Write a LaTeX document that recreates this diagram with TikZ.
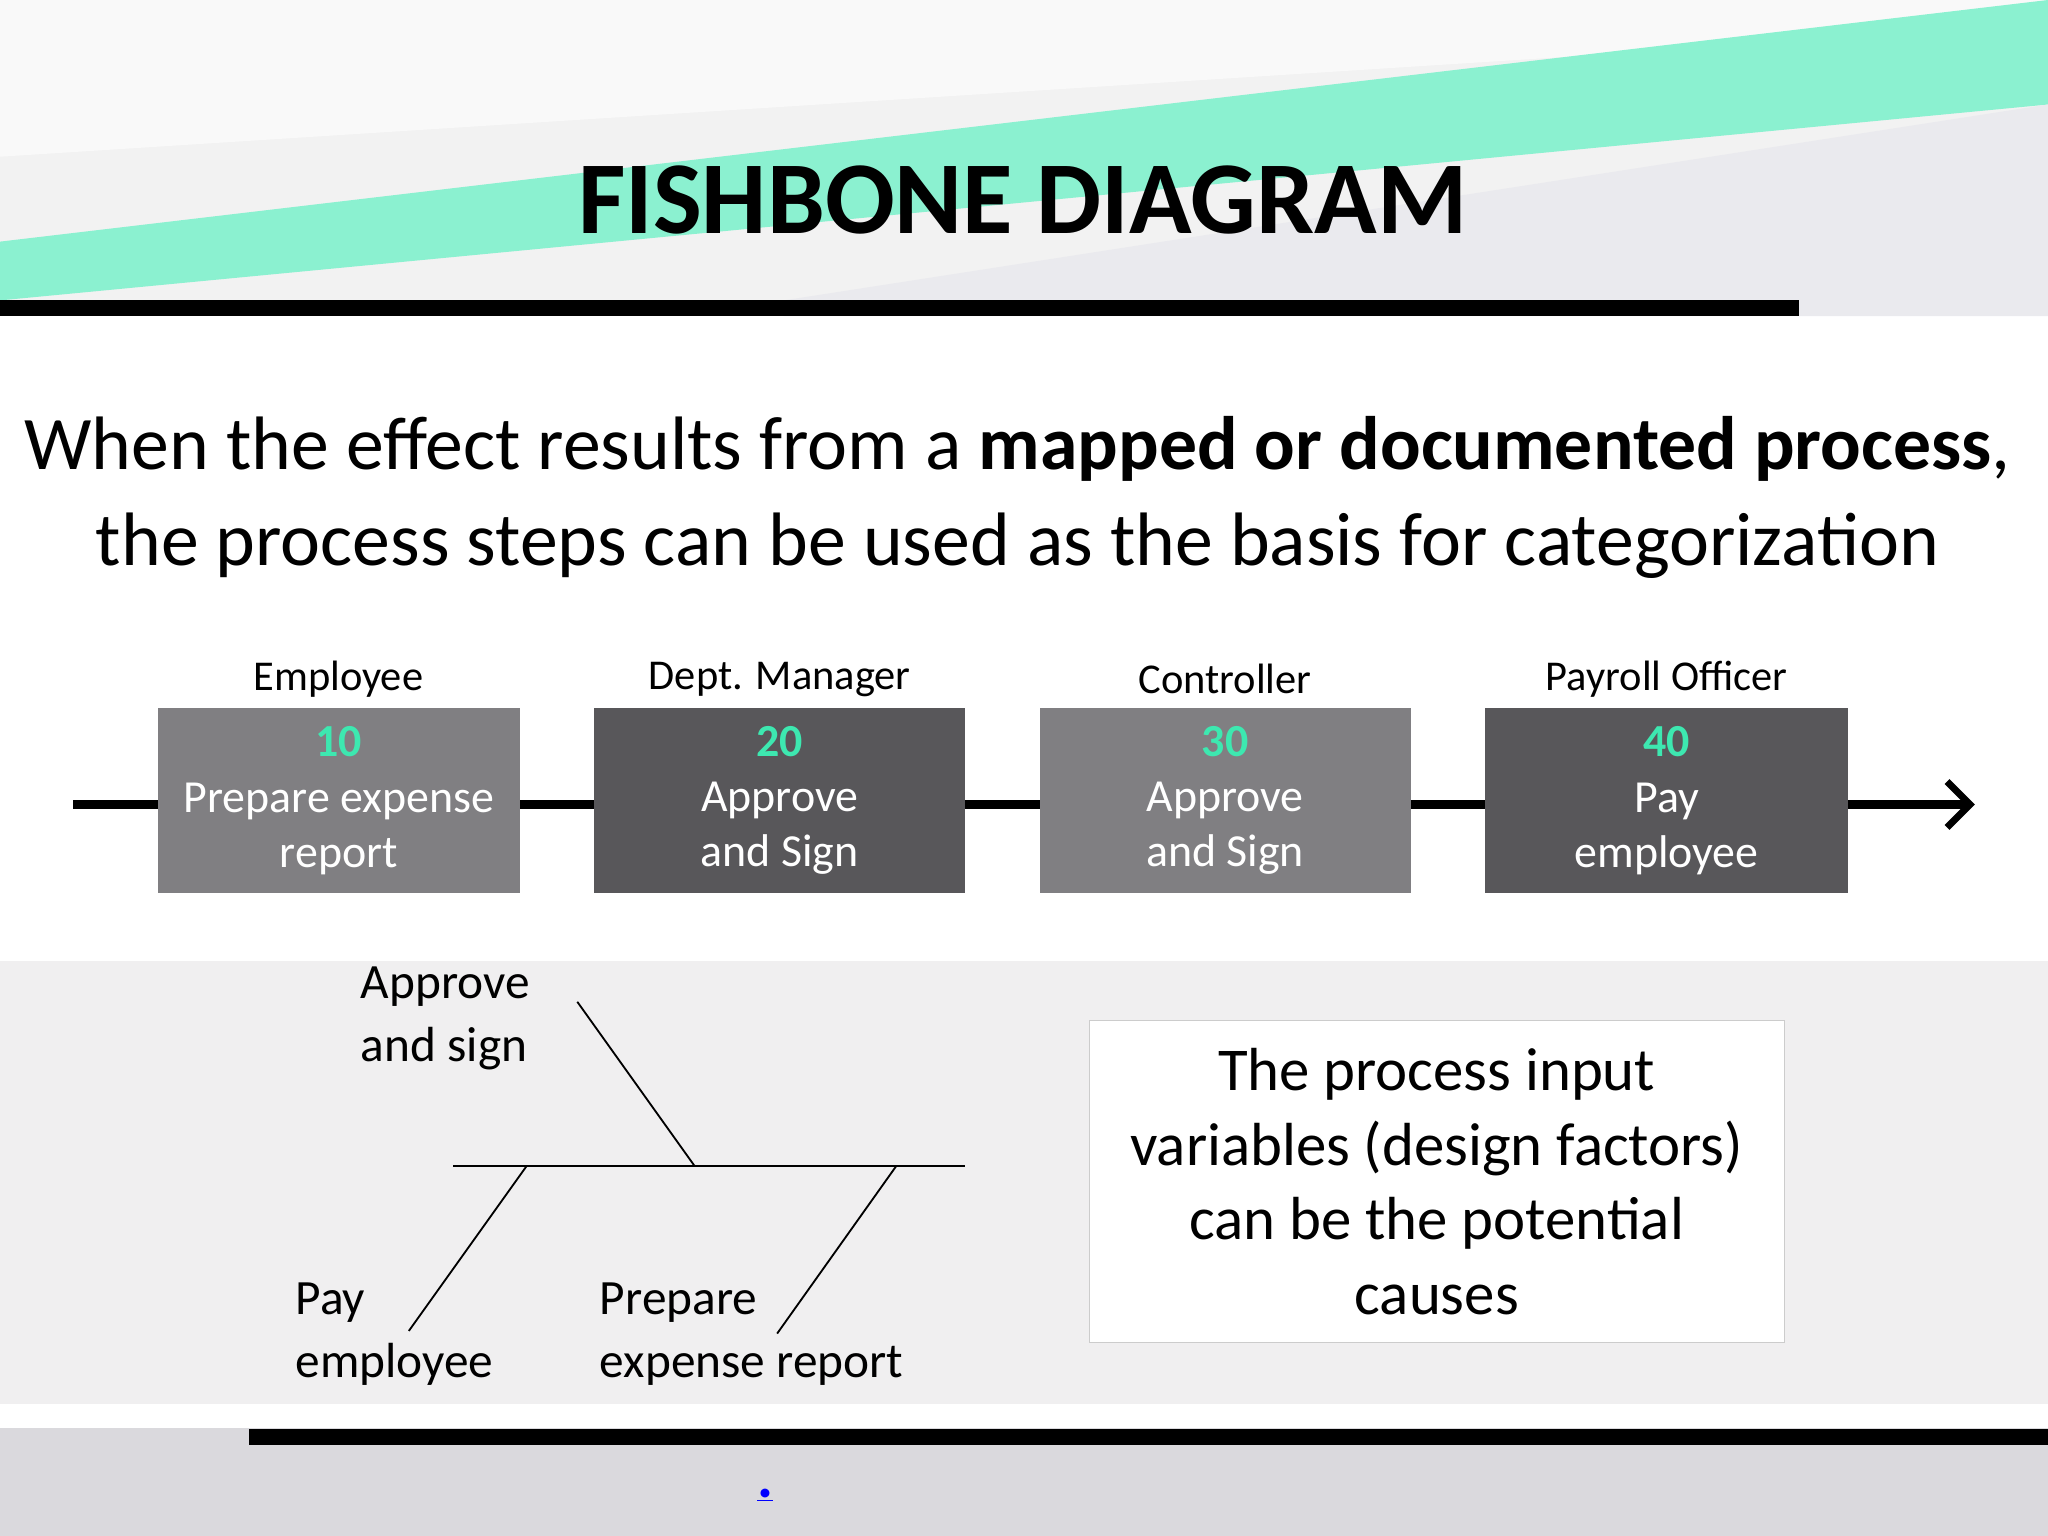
\documentclass[tikz,border=0pt]{standalone}
\usepackage{fontspec}
\setmainfont{Carlito}
\usetikzlibrary{arrows.meta}
\begin{document}
\begin{tikzpicture}[x=0.02cm,y=-0.02cm,
  step/.style={minimum width=#1*0.02cm,minimum height=2.84cm,inner sep=0pt,text=white,font=\fontsize{20}{24}\selectfont,align=center},
  role/.style={font=\fontsize{18.5}{20}\selectfont},
  lab/.style={font=\fontsize{21.5}{27.5}\selectfont,align=left,anchor=north west,inner sep=0pt},
  bone/.style={line width=0.8pt}]
\definecolor{tealc}{HTML}{3DE8B0}
\definecolor{lightbox}{HTML}{807F82}
\definecolor{darkbox}{HTML}{58575A}
\definecolor{bandgray}{HTML}{F0EFF0}
\definecolor{footgray}{HTML}{DAD9DD}
\useasboundingbox (0,0) rectangle (1568,1176);
% header
\fill[gray!10] (0,0) rectangle (1568,242);
\fill[gray!5] (0,0) -- (1568,0) -- (1568,20) -- (0,120) -- cycle;
\fill[tealc!60] (0,185) -- (1568,0) -- (1568,80) -- (0,230) -- cycle;
\fill[blue!10!gray!15] (600,230) -- (1568,80) -- (1568,242) -- (600,242) -- cycle;
\fill[black] (0,230) rectangle (1377,242);
\node[font=\fontsize{45}{50}\selectfont\bfseries] (title) at (783,153) {FISHBONE DIAGRAM};
% subtitle
\node[font=\fontsize{33}{42}\selectfont,align=center] (sub) at (779,381)
 {When the effect results from a \textbf{mapped or documented process},\\the process steps can be used as the basis for categorization};
% process
\coordinate (ls) at (56,616);
\coordinate (le) at (1512,616);
\draw[line width=4pt,-{Straight Barb[length=10pt,width=20pt,line width=3pt]}] (ls) -- (le);
\node[step=277,fill=lightbox] (s1) at (259.5,613) {\textcolor{tealc}{\textbf{10}}\\Prepare expense\\report};
\node[step=284,fill=darkbox] (s2) at (597,613) {\textcolor{tealc}{\textbf{20}}\\Approve\\and Sign};
\node[step=284,fill=lightbox] (s3) at (938,613) {\textcolor{tealc}{\textbf{30}}\\Approve\\and Sign};
\node[step=278,fill=darkbox] (s4) at (1276,613) {\textcolor{tealc}{\textbf{40}}\\Pay\\employee};
\node[role] (r1) at (259,520) {Employee};
\node[role] (r2) at (597,520) {Dept. Manager};
\node[role] (r3) at (938,520) {Controller};
\node[role] (r4) at (1276,520) {Payroll Officer};
% lower band
\fill[bandgray] (0,736) rectangle (1568,1075);
\fill[footgray] (0,1093) rectangle (1568,1176);
\fill[black] (191,1094) rectangle (1568,1106);
\node[text=blue,font=\fontsize{26}{28}\selectfont\bfseries] (dot) at (586,1145) {\underline{.}};
% fishbone
\coordinate (sp1) at (347,893);
\coordinate (sp2) at (739,893);
\draw[bone] (sp1) -- (sp2);
\coordinate (b1a) at (442,767); \coordinate (b1b) at (532,893);
\coordinate (b2a) at (403,893); \coordinate (b2b) at (313,1019);
\coordinate (b3a) at (686,893); \coordinate (b3b) at (595,1021);
\draw[bone] (b1a) -- (b1b);
\draw[bone] (b2a) -- (b2b);
\draw[bone] (b3a) -- (b3b);
\node[lab] (l1) at (276,740) {Approve\\and sign};
\node[lab] (l2) at (226,982) {Pay\\employee};
\node[lab] (l3) at (459,982) {Prepare\\expense report};
\node[draw=gray!40,fill=white,minimum width=10.64cm,minimum height=4.94cm,align=center,
  font=\fontsize{26.5}{32.5}\selectfont] (box) at (1100,904.5)
  {The process input\\variables (design factors)\\can be the potential\\causes};
\end{tikzpicture}
\end{document}
